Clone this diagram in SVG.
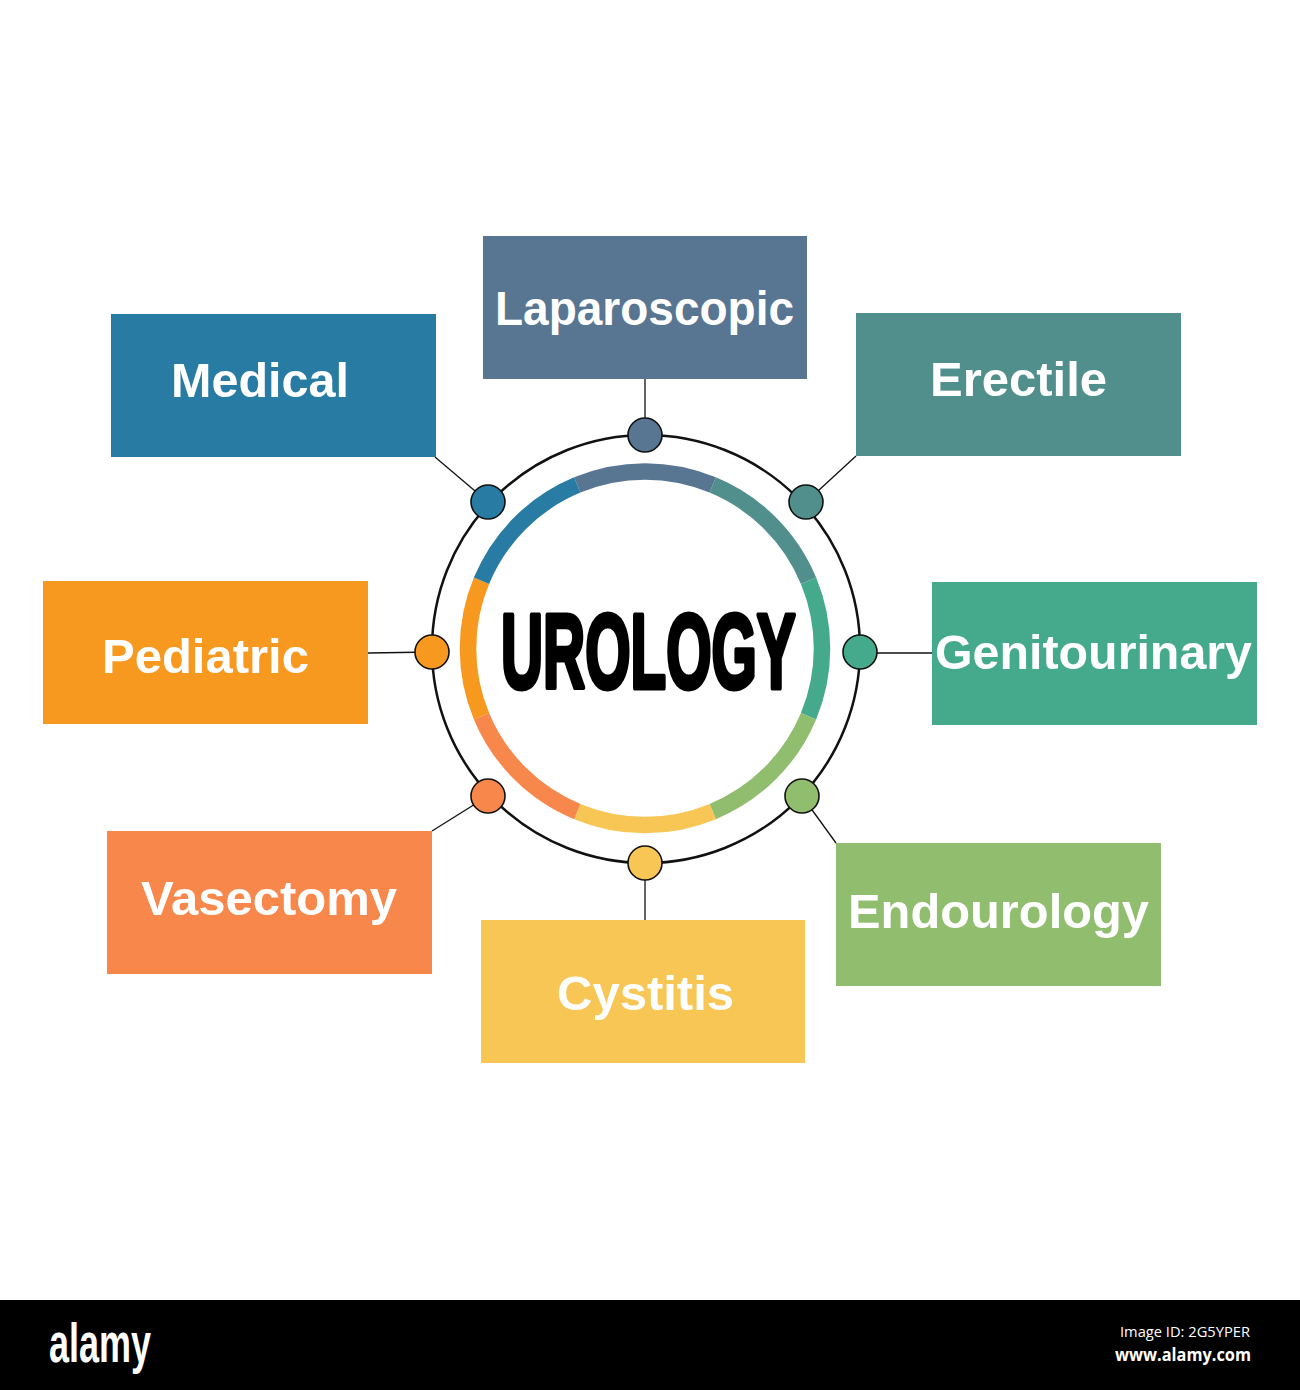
<svg xmlns="http://www.w3.org/2000/svg" width="1300" height="1390" viewBox="0 0 1300 1390">
<style>
.lbl{font-family:"Liberation Sans",Arial,sans-serif;font-weight:bold;font-size:48px;fill:#ffffff}
.con{stroke:#111;stroke-width:1.3;fill:none}
.dot{stroke:#111;stroke-width:1.6}
.seg{fill:none;stroke-width:16.5}
</style>
<rect x="0" y="0" width="1300" height="1390" fill="#ffffff"/>
<g id="connectors">
<line class="con" x1="645" y1="379" x2="645" y2="435"/>
<line class="con" x1="435" y1="457" x2="488" y2="502"/>
<line class="con" x1="856" y1="456" x2="806" y2="502"/>
<line class="con" x1="368" y1="653" x2="432" y2="652"/>
<line class="con" x1="860" y1="653" x2="932" y2="653"/>
<line class="con" x1="432" y1="831" x2="488" y2="796"/>
<line class="con" x1="645" y1="863" x2="645" y2="920"/>
<line class="con" x1="802" y1="796" x2="836" y2="843"/>
</g>
<g id="hub">
<circle cx="646" cy="649" r="214" fill="none" stroke="#111" stroke-width="2.5"/>
<path class="seg" stroke="#587591" d="M577.26,484.97 A177,177 0 0 1 712.74,484.97"/>
<path class="seg" stroke="#518f8d" d="M712.74,484.97 A177,177 0 0 1 808.53,580.76"/>
<path class="seg" stroke="#45aa8b" d="M808.53,580.76 A177,177 0 0 1 808.53,716.24"/>
<path class="seg" stroke="#91bd6f" d="M808.53,716.24 A177,177 0 0 1 712.74,811.53"/>
<path class="seg" stroke="#f8c654" d="M712.74,811.53 A177,177 0 0 1 577.26,811.53"/>
<path class="seg" stroke="#f7874a" d="M577.26,811.53 A177,177 0 0 1 481.47,716.24"/>
<path class="seg" stroke="#f7981f" d="M481.47,716.24 A177,177 0 0 1 481.47,580.76"/>
<path class="seg" stroke="#287ba2" d="M481.47,580.76 A177,177 0 0 1 577.26,484.97"/>
<text transform="translate(501,688) scale(0.55,1)" x="0" y="0" font-family="Liberation Sans, Arial, sans-serif" font-weight="bold" font-size="106" fill="#000" stroke="#000" stroke-width="5" stroke-linejoin="round">UROLOGY</text>
<circle class="dot" cx="645" cy="435" r="17" fill="#587591"/>
<circle class="dot" cx="806" cy="502" r="17" fill="#518f8d"/>
<circle class="dot" cx="860" cy="652" r="17" fill="#45aa8b"/>
<circle class="dot" cx="802" cy="796" r="17" fill="#91bd6f"/>
<circle class="dot" cx="645" cy="863" r="17" fill="#f8c654"/>
<circle class="dot" cx="488" cy="796" r="17" fill="#f7874a"/>
<circle class="dot" cx="432" cy="652" r="17" fill="#f7981f"/>
<circle class="dot" cx="488" cy="502" r="17" fill="#287ba2"/>
</g>
<g id="node-laparoscopic">
<rect x="483" y="236" width="324" height="143" fill="#587591"/>
<text class="lbl" x="495" y="325" textLength="299" lengthAdjust="spacingAndGlyphs">Laparoscopic</text>
</g>
<g id="node-medical">
<rect x="111" y="314" width="325" height="143" fill="#287ba2"/>
<text class="lbl" x="171" y="397" textLength="178" lengthAdjust="spacingAndGlyphs">Medical</text>
</g>
<g id="node-erectile">
<rect x="856" y="313" width="325" height="143" fill="#518f8d"/>
<text class="lbl" x="930" y="396" textLength="177" lengthAdjust="spacingAndGlyphs">Erectile</text>
</g>
<g id="node-pediatric">
<rect x="43" y="581" width="325" height="143" fill="#f7981f"/>
<text class="lbl" x="102" y="673" textLength="207" lengthAdjust="spacingAndGlyphs">Pediatric</text>
</g>
<g id="node-genitourinary">
<rect x="932" y="582" width="325" height="143" fill="#45aa8b"/>
<text class="lbl" x="935" y="669" textLength="317" lengthAdjust="spacingAndGlyphs">Genitourinary</text>
</g>
<g id="node-vasectomy">
<rect x="107" y="831" width="325" height="143" fill="#f7874a"/>
<text class="lbl" x="141" y="915" textLength="256" lengthAdjust="spacingAndGlyphs">Vasectomy</text>
</g>
<g id="node-cystitis">
<rect x="481" y="920" width="324" height="143" fill="#f8c654"/>
<text class="lbl" x="557" y="1010" textLength="177" lengthAdjust="spacingAndGlyphs">Cystitis</text>
</g>
<g id="node-endourology">
<rect x="836" y="843" width="325" height="143" fill="#91bd6f"/>
<text class="lbl" x="848" y="928" textLength="301" lengthAdjust="spacingAndGlyphs">Endourology</text>
</g>
<g id="footer">
<rect x="0" y="1300" width="1300" height="90" fill="#000"/>
<text x="49" y="1362" textLength="102" lengthAdjust="spacingAndGlyphs" font-family="Liberation Sans, Arial, sans-serif" font-weight="bold" font-size="56" fill="#fff">alamy</text>
<text x="1120" y="1337" textLength="130" lengthAdjust="spacingAndGlyphs" font-family="Open Sans, DejaVu Sans, sans-serif" font-size="15" fill="#fff">Image ID: 2G5YPER</text>
<text x="1115" y="1361" textLength="136" lengthAdjust="spacingAndGlyphs" font-family="Open Sans, DejaVu Sans, sans-serif" font-weight="bold" font-size="17" fill="#fff">www.alamy.com</text>
</g>
</svg>
